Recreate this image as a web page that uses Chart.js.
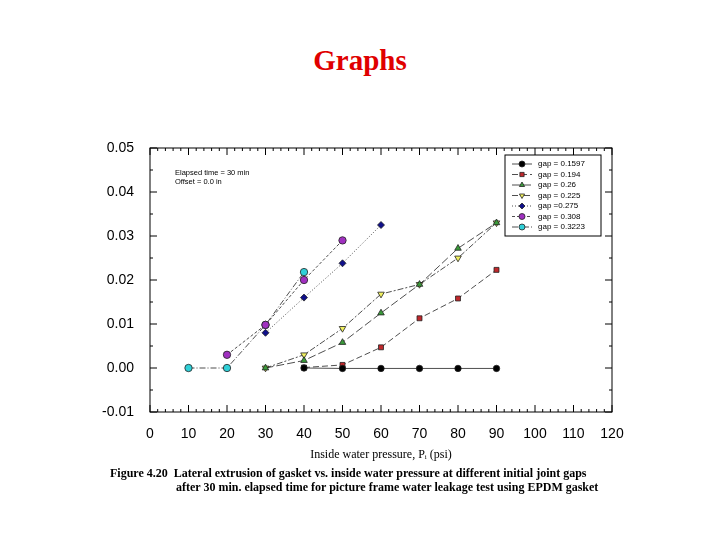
<!DOCTYPE html>
<html>
<head>
<meta charset="utf-8">
<script src="https://cdn.jsdelivr.net/npm/chart.js@4.4.1/dist/chart.umd.min.js"></script>
<style>
  body { margin: 0; background: #fff; }
  #wrap { position: relative; width: 720px; height: 540px; }
  #title { position: absolute; top: 44px; left: 0; width: 720px; text-align: center;
    font: bold 29px "Liberation Serif", serif; color: #e00000; }
  #caption { position: absolute; top: 466px; left: 110px; font: bold 12px "Liberation Serif", serif; line-height: 14px; }
  canvas { position: absolute; top: 0; left: 0; }
</style>
</head>
<body>
<div id="wrap">
  <div id="title">Graphs</div>
  <canvas id="c" width="720" height="540"></canvas>
  <div id="caption">Figure 4.20&nbsp; Lateral extrusion of gasket vs. inside water pressure at different initial joint gaps<br>
  &nbsp;&nbsp;&nbsp;&nbsp;&nbsp;&nbsp;&nbsp;&nbsp;&nbsp;&nbsp;&nbsp;&nbsp;&nbsp;&nbsp;&nbsp;&nbsp;&nbsp;&nbsp;&nbsp;&nbsp;&nbsp;&nbsp;after 30 min. elapsed time for picture frame water leakage test using EPDM gasket</div>
</div>
<script>
// values (x = psi, y = extrusion in inches)
const gap1597X = [40, 50, 60, 70, 80, 90];
const gap1597Y = [0.0000, -0.0001, -0.0001, -0.0001, -0.0001, -0.0001];
const gap194X = [40, 50, 60, 70, 80, 90];
const gap194Y = [0.0001, 0.0007, 0.0047, 0.0113, 0.0158, 0.0223];
const gap26X = [30, 40, 50, 60, 70, 80, 90];
const gap26Y = [0.0000, 0.0017, 0.0058, 0.0125, 0.0190, 0.0272, 0.0330];
const gap225X = [30, 40, 50, 60, 70, 80, 90];
const gap225Y = [0.0000, 0.0030, 0.0090, 0.0168, 0.0190, 0.0250, 0.0330];
const gap275X = [30, 40, 50, 60];
const gap275Y = [0.0080, 0.0160, 0.0238, 0.0325];
const gap308X = [20, 30, 40, 50];
const gap308Y = [0.0030, 0.0098, 0.0200, 0.0290];
const gap3223X = [10, 20, 30, 40];
const gap3223Y = [0.0000, 0.0000, 0.0098, 0.0218];
const yTicks = [-0.01, 0.00, 0.01, 0.02, 0.03, 0.04, 0.05];
const xTicks = [0, 10, 20, 30, 40, 50, 60, 70, 80, 90, 100, 110, 120];

const pts = (xs, ys) => xs.map((x, i) => ({ x, y: ys[i] }));

function series(label, xs, ys, color, style, dash, r) {
  return {
    label, data: pts(xs, ys), borderColor: '#222', borderWidth: 0.8, borderDash: dash,
    pointStyle: style, pointBackgroundColor: color, pointBorderColor: '#222',
    pointBorderWidth: 0.8, pointRadius: r, showLine: true, tension: 0
  };
}

const datasets = [
  series('gap = 0.1597', gap1597X, gap1597Y, '#000000', 'circle', [], 3.2),
  series('gap = 0.194', gap194X, gap194Y, '#c0282c', 'rect', [6, 3], 3.5),
  series('gap = 0.26', gap26X, gap26Y, '#3a9a3a', 'triangle', [8, 3], 3.8),
  series('gap = 0.225', gap225X, gap225Y, '#f0f060', 'triangle', [6, 2, 2, 2], 3.8),
  series('gap =0.275', gap275X, gap275Y, '#10108a', 'rectRot', [1, 2], 3.5),
  series('gap = 0.308', gap308X, gap308Y, '#a030c0', 'circle', [3, 2], 3.7),
  series('gap = 0.3223', gap3223X, gap3223Y, '#30d0d8', 'circle', [6, 2, 1, 2], 3.7)
];
datasets[3].pointRotation = 180;

const framePlugin = {
  id: 'frame',
  afterDatasetsDraw(chart) {
    const { ctx, chartArea: a, scales: { x, y } } = chart;
    ctx.save();
    ctx.strokeStyle = '#000';
    ctx.lineWidth = 1;
    ctx.strokeRect(a.left, a.top, a.right - a.left, a.bottom - a.top);
    // ticks inside on all four sides
    ctx.beginPath();
    for (let v = 0; v <= 120; v += 2) {
      const px = x.getPixelForValue(v);
      const len = v % 10 === 0 ? 7 : 3;
      ctx.moveTo(px, a.bottom); ctx.lineTo(px, a.bottom - len);
      ctx.moveTo(px, a.top); ctx.lineTo(px, a.top + len);
    }
    for (let k = -10; k <= 50; k += 5) {
      const py = y.getPixelForValue(k / 1000);
      const len = k % 10 === 0 ? 7 : 3;
      ctx.moveTo(a.left, py); ctx.lineTo(a.left + len, py);
      ctx.moveTo(a.right, py); ctx.lineTo(a.right - len, py);
    }
    ctx.stroke();
    // annotation text
    ctx.fillStyle = '#000';
    ctx.font = '7.5px Arial, "Liberation Sans"';
    ctx.textBaseline = 'middle';
    ctx.fillText('Elapsed time = 30 min', a.left + 25, 173);
    ctx.fillText('Offset = 0.0 in', a.left + 25, 182);
    // legend box
    const lx = 505, ly = 155, lw = 96, lh = 81;
    ctx.fillStyle = '#fff';
    ctx.fillRect(lx, ly, lw, lh);
    ctx.strokeRect(lx, ly, lw, lh);
    ctx.font = '8px Arial, "Liberation Sans"';
    chart.data.datasets.forEach((ds, i) => {
      const cy = ly + 9 + i * 10.5;
      ctx.strokeStyle = '#222';
      ctx.lineWidth = 0.8;
      ctx.setLineDash(ds.borderDash);
      ctx.beginPath(); ctx.moveTo(lx + 7, cy); ctx.lineTo(lx + 27, cy); ctx.stroke();
      ctx.setLineDash([]);
      ctx.fillStyle = ds.pointBackgroundColor;
      ctx.strokeStyle = '#222';
      Chart.helpers.drawPoint(ctx, {
        pointStyle: ds.pointStyle, rotation: ds.pointRotation || 0, radius: 3, borderWidth: 0.8
      }, lx + 17, cy);
      ctx.fillStyle = '#000';
      ctx.fillText(ds.label, lx + 33, cy);
    });
    ctx.restore();
  }
};

new Chart(document.getElementById('c'), {
  type: 'scatter',
  data: { datasets },
  options: {
    responsive: false,
    animation: false,
    layout: { padding: { left: 100, top: 148, right: 108, bottom: 78 } },
    plugins: { legend: { display: false }, tooltip: { enabled: false } },
    scales: {
      x: {
        min: 0, max: 120,
        afterFit: s => { s.height = 50; },
        afterBuildTicks: s => { s.ticks = xTicks.map(v => ({ value: v })); },
        grid: { display: false },
        border: { display: false },
        ticks: { color: '#000', font: { size: 14, family: 'Arial, "Liberation Sans"' }, padding: 6, maxRotation: 0 },
        title: { display: true, text: 'Inside water pressure, Pᵢ (psi)', color: '#000',
          font: { size: 12, family: '"Liberation Serif", serif' }, padding: 0 }
      },
      y: {
        min: -0.01, max: 0.05,
        afterFit: s => { s.width = 50; },
        afterBuildTicks: s => { s.ticks = yTicks.map(v => ({ value: v })); },
        grid: { display: false },
        border: { display: false },
        ticks: { color: '#000', font: { size: 14, family: 'Arial, "Liberation Sans"' }, padding: 8,
          callback: v => v.toFixed(2) }
      }
    }
  },
  plugins: [framePlugin]
});
</script>
</body>
</html>
